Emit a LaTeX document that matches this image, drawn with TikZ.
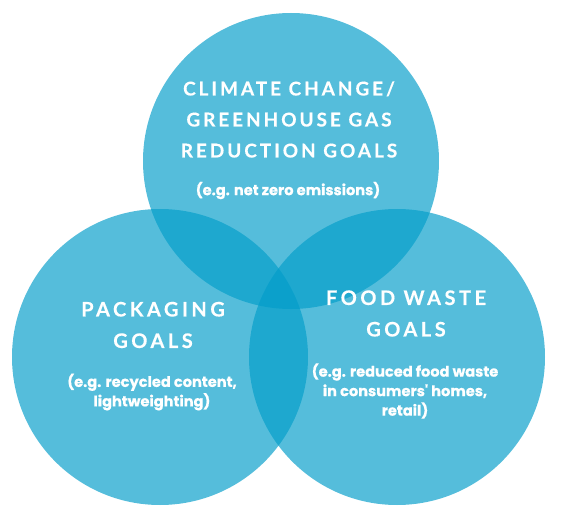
\documentclass[tikz,border=0pt]{standalone}
\usepackage{fontspec}
\newfontfamily\titlefontA[LetterSpace=15.5,BoldFeatures={FakeBold=0.3}]{Lato}
\newfontfamily\titlefontB[LetterSpace=17.5,BoldFeatures={FakeBold=0.3}]{Lato}
\newfontfamily\subfont[BoldFeatures={FakeBold=0.5}]{Poppins}
\definecolor{vennblue}{RGB}{2,157,201}
\tikzset{
  venn/.style={circle, minimum size=296pt, inner sep=0pt, fill=vennblue, fill opacity=0.67},
  titletop/.style={text=white, align=center, inner sep=0pt, font=\titlefontA\bfseries\fontsize{19}{31}\selectfont},
  titlelow/.style={text=white, align=center, inner sep=0pt, font=\titlefontB\bfseries\fontsize{20}{31.5}\selectfont},
  sub/.style={text=white, align=center, inner sep=0pt, font=\subfont\bfseries\fontsize{14.6}{19.5}\selectfont}
}
\begin{document}
\begin{tikzpicture}[x=1pt,y=-1pt]
\useasboundingbox (0,0) rectangle (566,527);
\node[venn] (top) at (291,161) {};
\node[venn] (left) at (160,357) {};
\node[venn] (right) at (397,357) {};
\node[titletop] (toptitle) at (289,119.5) {CLIMATE CHANGE/\\GREENHOUSE GAS\\REDUCTION GOALS};
\node[sub] (topsub) at (288,190.5) {(e.g. net zero emissions)};
\node[titlelow] (lefttitle) at (153,325) {PACKAGING\\GOALS};
\node[sub] (leftsub) at (152,392) {(e.g. recycled content,\\lightweighting)};
\node[titlelow] (righttitle) at (406,313.5) {FOOD WASTE\\GOALS};
\node[sub] (rightsub) at (405,391) {(e.g. reduced food waste\\in consumers' homes,\\retail)};
\end{tikzpicture}
\end{document}
